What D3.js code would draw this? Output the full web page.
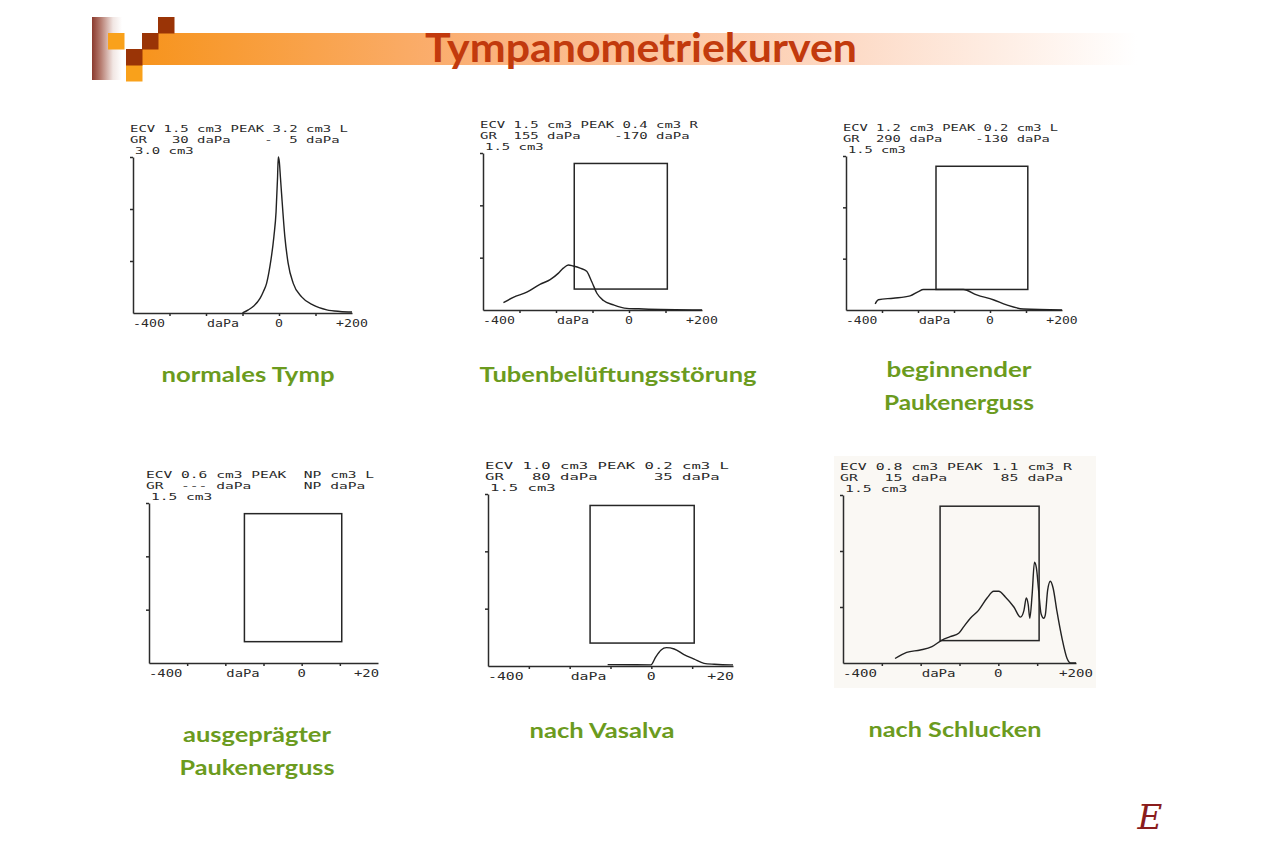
<!DOCTYPE html>
<html>
<head>
<meta charset="utf-8">
<script src="https://cdn.jsdelivr.net/npm/d3@7"></script>
<style>
  body { margin: 0; background: #fff; }
  .mono { font-family: "DejaVu Sans Mono", "Liberation Mono", monospace; fill: #2a2a2a; }
  .cap { font-family: Lato, "Open Sans", sans-serif; font-weight: bold; fill: #6b9b1e; }
</style>
</head>
<body>
<svg id="chart" width="1280" height="854"></svg>
<script>
var title = "Tympanometriekurven";
var pressureDomain = [-400, 200];          // daPa
var xTickValues = [-300, -200, -100, 0, 100];
var xTickLabels = ["-400", "daPa", "0"];
var lastTickLabel = ["+200", "+200", "+200", "+20", "+20", "+200"];
var scaleMax = [3.0, 1.5, 1.5, 1.5, 1.5, 1.5];   // cm3
var scaleLabels = ["3.0 cm3", "1.5 cm3", "1.5 cm3", "1.5 cm3", "1.5 cm3", "1.5 cm3"];
var hasBox = [false, true, true, true, true, true];
var boxPressure = [-150, 105];
var boxVolume = [0.2, 1.4];

var headerLines = [
  ["ECV 1.5 cm3 PEAK 3.2 cm3 L", "GR   30 daPa    -  5 daPa"],
  ["ECV 1.5 cm3 PEAK 0.4 cm3 R", "GR  155 daPa    -170 daPa"],
  ["ECV 1.2 cm3 PEAK 0.2 cm3 L", "GR  290 daPa    -130 daPa"],
  ["ECV 0.6 cm3 PEAK  NP cm3 L", "GR  --- daPa      NP daPa"],
  ["ECV 1.0 cm3 PEAK 0.2 cm3 L", "GR   80 daPa      35 daPa"],
  ["ECV 0.8 cm3 PEAK 1.1 cm3 R", "GR   15 daPa      85 daPa"]
];

var captions = [
  ["normales Tymp"],
  ["Tubenbelüftungsstörung"],
  ["beginnender", "Paukenerguss"],
  ["ausgeprägter", "Paukenerguss"],
  ["nach Vasalva"],
  ["nach Schlucken"]
];

// [daPa, cm3]
var curveNormal = [[-100,0],[-84,0.06],[-70,0.13],[-52,0.28],[-43,0.41],[-34,0.57],[-25,0.89],
  [-14,1.47],[-8,1.95],[-4,2.6],[-2,3.0],[1,2.9],[4,2.6],[7,2.3],[16,1.47],[25,0.96],[39,0.57],
  [62,0.31],[94,0.15],[131,0.06],[167,0.03],[200,0.02]];
var curveTube = [[-344,0.07],[-317,0.12],[-280,0.17],[-244,0.245],[-216,0.29],[-194,0.35],[-180,0.40],
  [-166,0.43],[-153,0.42],[-134,0.40],[-116,0.37],[-102,0.27],[-88,0.16],[-70,0.09],[-43,0.05],
  [-6,0.016],[40,0.01],[200,0]];
var curveBegin = [[-319,0.06],[-310,0.1],[-269,0.115],[-222,0.137],[-199,0.18],[-185,0.2],[-139,0.2],
  [-74,0.2],[-37,0.147],[9,0.1],[46,0.05],[93,0.01],[200,0]];
var curveEffusion = [];
var curveVasalva = [[-107,0.012],[-1,0.01],[11,0.08],[24,0.14],[37,0.16],[56,0.148],[80,0.10],
  [105,0.06],[129,0.023],[154,0.015],[194,0.01],[200,0.01]];
var curveSwallow = [[-266,0.04],[-236,0.095],[-201,0.116],[-171,0.146],[-145,0.205],[-124,0.235],
  [-102,0.265],[-89,0.325],[-72,0.40],[-51,0.47],[-29,0.58],[-12,0.64],[1,0.64],[18,0.59],[40,0.50],
  [57,0.41],[66,0.47],[72,0.58],[77,0.52],[81,0.40],[87,0.61],[93,0.90],[98,0.85],[104,0.64],
  [110,0.44],[117,0.40],[121,0.43],[127,0.65],[134,0.73],[141,0.67],[151,0.46],[164,0.22],
  [177,0.04],[186,0],[200,0]];
var curves = [curveNormal, curveTube, curveBegin, curveEffusion, curveVasalva, curveSwallow];

// ---- layout (pixel frames of the scanned printouts) ----
// [x of y-axis, right end of x-axis, top of y-axis, baseline]
var frames = [
  [133, 352, 157, 313],
  [483, 702, 153, 310],
  [846, 1062, 156, 310],
  [149, 378, 503, 663],
  [488, 733, 494, 666],
  [843, 1076, 495, 663]
];
var scanBg = [null, null, null, null, null, [834, 456, 262, 232, "#faf8f4"]];
// [centre x, first baseline, widths per line]
var capPos = [
  [248, 382, [173]],
  [618, 382, [277]],
  [959, 377, [145, 150]],
  [257, 742, [148, 155]],
  [602, 738, [145]],
  [955, 737, [173]]
];

// keep the printer's column spacing
function fixed(t) { return t.replace(/ /g, "\u00a0"); }

var svg = d3.select("#chart");
var defs = svg.append("defs");

var band = defs.append("linearGradient").attr("id", "band");
band.selectAll("stop")
  .data([[0, "#f7941d"], [0.35, "#fbb27c"], [0.7, "#fdd9c4"], [1, "#ffffff"]])
  .enter().append("stop")
  .attr("offset", function(d){ return d[0]; })
  .attr("stop-color", function(d){ return d[1]; });

var bar = defs.append("linearGradient").attr("id", "bar");
bar.selectAll("stop")
  .data([[0, "#8b3a2e"], [0.3, "#b77e72"], [0.7, "#f1e6e3"], [1, "#ffffff"]])
  .enter().append("stop")
  .attr("offset", function(d){ return d[0]; })
  .attr("stop-color", function(d){ return d[1]; });

// header decoration
var head = svg.append("g");
head.append("rect").attr("x", 142).attr("y", 33).attr("width", 995).attr("height", 32).attr("fill", "url(#band)");
head.append("rect").attr("x", 92).attr("y", 17).attr("width", 30).attr("height", 63).attr("fill", "url(#bar)");
[[108, 33, "#f9a11b"], [126, 65, "#f9a11b"], [126, 49, "#9a3406"], [142, 33, "#9a3406"], [158, 17, "#9a3406"]]
  .forEach(function(s){
    head.append("rect").attr("x", s[0]).attr("y", s[1]).attr("width", 16.5).attr("height", 16.5).attr("fill", s[2]);
  });
head.append("text")
  .attr("x", 641).attr("y", 62)
  .attr("text-anchor", "middle")
  .attr("textLength", 432).attr("lengthAdjust", "spacingAndGlyphs")
  .style("font-family", "Lato, 'Open Sans', sans-serif")
  .style("font-weight", "bold").style("font-size", "41px")
  .style("fill", "#c23a0d")
  .text(title);

// panels
frames.forEach(function(f, i) {
  var g = svg.append("g").attr("class", "panel");
  if (scanBg[i]) {
    var b = scanBg[i];
    g.append("rect").attr("x", b[0]).attr("y", b[1]).attr("width", b[2]).attr("height", b[3]).attr("fill", b[4]);
  }

  var x = d3.scaleLinear().domain(pressureDomain).range([f[0], f[1]]);
  var y = d3.scaleLinear().domain([0, scaleMax[i]]).range([f[3], f[2]]);
  var charW = (f[1] - f[0] - 1) / 26;

  var xAxis = d3.axisBottom(x).tickValues(xTickValues).tickSize(3).tickSizeOuter(0).tickFormat("");
  var yAxis = d3.axisLeft(y).tickValues([scaleMax[i] / 3, scaleMax[i] * 2 / 3, scaleMax[i]])
    .tickSize(3).tickSizeOuter(0).tickFormat("");

  g.append("g").attr("transform", "translate(0," + f[3] + ")").call(xAxis)
    .call(function(a){ a.attr("color", "#2b2b2b"); a.selectAll("path,line").attr("stroke-width", 1.5); });
  g.append("g").attr("transform", "translate(" + f[0] + ",0)").call(yAxis)
    .call(function(a){ a.attr("color", "#2b2b2b"); a.selectAll("path,line").attr("stroke-width", 1.5); });

  if (hasBox[i]) {
    g.append("rect")
      .attr("x", x(boxPressure[0])).attr("y", y(boxVolume[1]))
      .attr("width", x(boxPressure[1]) - x(boxPressure[0]))
      .attr("height", y(boxVolume[0]) - y(boxVolume[1]))
      .attr("fill", "none").attr("stroke", "#262626").attr("stroke-width", 1.5);
  }

  if (curves[i].length) {
    var line = d3.line().x(function(d){ return x(d[0]); }).y(function(d){ return y(d[1]); })
      .curve(d3.curveMonotoneX);
    g.append("path").datum(curves[i]).attr("d", line)
      .attr("fill", "none").attr("stroke", "#222").attr("stroke-width", 1.4)
      .attr("stroke-linejoin", "round");
  }

  // printer header
  headerLines[i].forEach(function(t, k) {
    g.append("text").attr("class", "mono")
      .attr("x", f[0] - 3).attr("y", f[2] - 25 + k * 11)
      .attr("textLength", t.length * charW).attr("lengthAdjust", "spacingAndGlyphs")
      .style("font-size", "9.4px").text(fixed(t));
  });
  g.append("text").attr("class", "mono")
    .attr("x", f[0] + 2).attr("y", f[2] - 3)
    .attr("textLength", scaleLabels[i].length * charW).attr("lengthAdjust", "spacingAndGlyphs")
    .style("font-size", "9.4px").text(fixed(scaleLabels[i]));

  // tick labels
  var tw = charW * 0.95;
  var ty = f[3] + 14;
  var short = lastTickLabel[i].length === 3;
  var lbl = [
    [xTickLabels[0], x(-400), "start"],
    [xTickLabels[1], x(-200) + 1, "start"],
    [xTickLabels[2], x(0), "middle"],
    [lastTickLabel[i], short ? f[1] + 1 : x(200), short ? "end" : "middle"]
  ];
  g.selectAll("text.tick-label").data(lbl).enter().append("text")
    .attr("class", "mono tick-label")
    .attr("x", function(d){ return d[1]; }).attr("y", ty)
    .attr("text-anchor", function(d){ return d[2]; })
    .attr("textLength", function(d){ return d[0].length * tw; })
    .attr("lengthAdjust", "spacingAndGlyphs")
    .style("font-size", "11px")
    .text(function(d){ return d[0]; });

  // caption
  var cp = capPos[i];
  captions[i].forEach(function(t, k) {
    g.append("text").attr("class", "cap")
      .attr("x", cp[0]).attr("y", cp[1] + k * 33)
      .attr("text-anchor", "middle")
      .attr("textLength", cp[2][k]).attr("lengthAdjust", "spacingAndGlyphs")
      .style("font-size", "20px")
      .text(t);
  });
});

// logo bottom right
svg.append("text")
  .attr("x", 1150).attr("y", 829)
  .attr("text-anchor", "middle")
  .style("font-family", "'DejaVu Serif', serif")
  .style("font-style", "italic")
  .style("font-size", "34px")
  .style("fill", "#8a1c1c")
  .text("E");
</script>
</body>
</html>
